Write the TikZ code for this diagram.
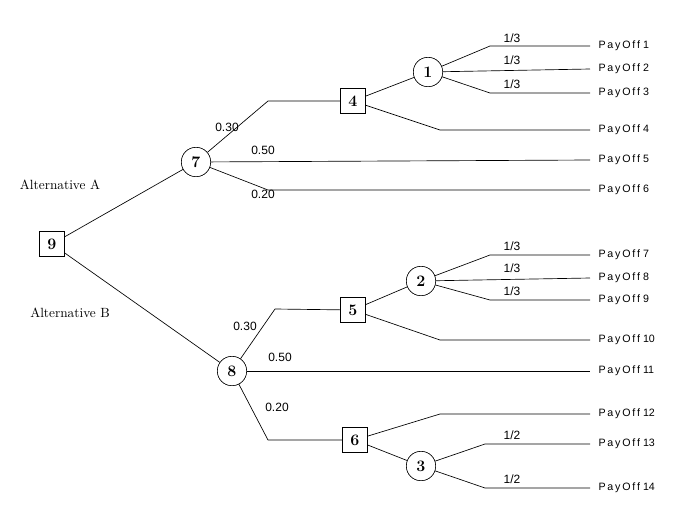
\documentclass[tikz,border=0pt]{standalone}
\usepackage{fontspec}
\newfontfamily\lab{Liberation Sans}
\begin{document}
\begin{tikzpicture}[x=0.75pt,y=-0.75pt,
  dec/.style={draw,fill=white,minimum size=19pt,inner sep=0pt,font=\bfseries\large},
  chn/.style={draw,fill=white,circle,minimum size=22pt,inner sep=0pt,font=\bfseries\large},
  ln/.style={draw,line width=0.5pt},
  pay/.style={anchor=west,font=\lab\footnotesize,inner sep=1pt},
  pr/.style={font=\lab\small,inner sep=1pt}]
\useasboundingbox (0,0) rectangle (697,511);
\coordinate (k74) at (268,101); \coordinate (k76) at (268,190);
\coordinate (k44) at (440,130); \coordinate (k11) at (490,46); \coordinate (k13) at (490,93);
\coordinate (k85) at (275,309); \coordinate (k86) at (268,440);
\coordinate (k510) at (440,340); \coordinate (k27) at (490,255); \coordinate (k29) at (490,300);
\coordinate (k612) at (440,414); \coordinate (k313) at (485,444); \coordinate (k314) at (485,488);
\foreach \i/\y in {1/46,2/69,3/93,4/130,5/160,6/190,7/255,8/278,9/300,10/340,11/371,12/414,13/444,14/488}
  {\coordinate (e\i) at (590,\y); \node[pay] (p\i) at (597,\y) {P\,a\,y\,O\,f\,f\ \i};}
\node[dec] (n9) at (52,244) {9};
\node[chn] (n7) at (196,162) {7};
\node[chn] (n8) at (232,371) {8};
\node[dec] (n4) at (353,101) {4};
\node[chn] (n1) at (428,72) {1};
\node[dec] (n5) at (353,310) {5};
\node[chn] (n2) at (421,281) {2};
\node[dec] (n6) at (355,440) {6};
\node[chn] (n3) at (421,466) {3};
\draw[ln] (n9) -- (n7); \draw[ln] (n9) -- (n8);
\draw[ln] (n7) -- (k74) -- (n4);
\draw[ln] (n7) -- (e5);
\draw[ln] (n7) -- (k76) -- (e6);
\draw[ln] (n4) -- (n1);
\draw[ln] (n4) -- (k44) -- (e4);
\draw[ln] (n1) -- (k11) -- (e1);
\draw[ln] (n1) -- (e2);
\draw[ln] (n1) -- (k13) -- (e3);
\draw[ln] (n8) -- (k85) -- (n5);
\draw[ln] (n8) -- (e11);
\draw[ln] (n8) -- (k86) -- (n6);
\draw[ln] (n5) -- (n2);
\draw[ln] (n5) -- (k510) -- (e10);
\draw[ln] (n2) -- (k27) -- (e7);
\draw[ln] (n2) -- (e8);
\draw[ln] (n2) -- (k29) -- (e9);
\draw[ln] (n6) -- (k612) -- (e12);
\draw[ln] (n6) -- (n3);
\draw[ln] (n3) -- (k313) -- (e13);
\draw[ln] (n3) -- (k314) -- (e14);
\node[dec] at (n9) {9}; \node[chn] at (n7) {7}; \node[chn] at (n8) {8};
\node[dec] at (n4) {4}; \node[chn] at (n1) {1}; \node[dec] at (n5) {5};
\node[chn] at (n2) {2}; \node[dec] at (n6) {6}; \node[chn] at (n3) {3};
\node (la) at (60,185) {Alternative A};
\node (lb) at (70,313) {Alternative B};
\node[pr] at (227,127) {0.30}; \node[pr] at (263,150) {0.50}; \node[pr] at (263,194) {0.20};
\node[pr] at (245,326) {0.30}; \node[pr] at (280,357) {0.50}; \node[pr] at (277,407) {0.20};
\node[pr] at (512,38) {1/3}; \node[pr] at (512,60) {1/3}; \node[pr] at (512,84) {1/3};
\node[pr] at (512,246) {1/3}; \node[pr] at (512,268) {1/3}; \node[pr] at (512,291) {1/3};
\node[pr] at (512,435) {1/2}; \node[pr] at (512,479) {1/2};
\end{tikzpicture}
\end{document}
